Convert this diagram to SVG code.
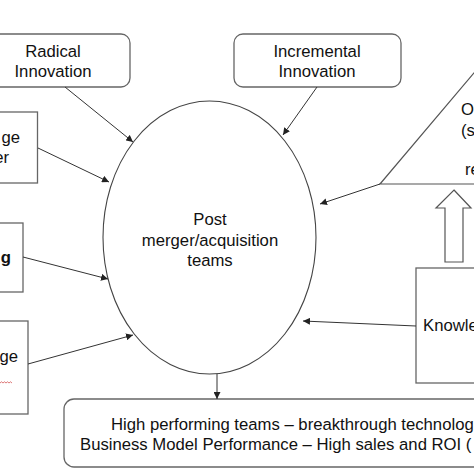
<svg xmlns="http://www.w3.org/2000/svg" width="474" height="474" viewBox="0 0 474 474">
<style>
.t{font-family:"Liberation Sans",Arial,sans-serif;font-size:16.7px;fill:#111}
.c{text-anchor:middle}
.e{text-anchor:end}
.box{fill:#fff;stroke:#666;stroke-width:1.3}
.cn{stroke:#333;stroke-width:1;fill:none}
</style>
<defs>
<marker id="ah" viewBox="0 0 10 10" refX="10" refY="5" markerWidth="7" markerHeight="7" markerUnits="userSpaceOnUse" orient="auto">
<path d="M0,0 L10,5 L0,10 z" fill="#222"/>
</marker>
</defs>
<rect width="474" height="474" fill="#fff"/>
<g id="ellipse">
<ellipse cx="209.5" cy="237.5" rx="106.5" ry="136.5" fill="#fff" stroke="#444" stroke-width="1.1"/>
<text class="t c" x="210" y="225">Post</text>
<text class="t c" x="210" y="246">merger/acquisition</text>
<text class="t c" x="210" y="266">teams</text>
</g>
<g id="radical">
<rect class="box" x="-10" y="34" width="140" height="53" rx="9"/>
<text class="t c" x="53" y="57">Radical</text>
<text class="t c" x="53" y="77">Innovation</text>
</g>
<g id="incremental">
<rect class="box" x="234" y="34" width="167" height="53" rx="9"/>
<text class="t c" x="317" y="57">Incremental</text>
<text class="t c" x="317" y="77">Innovation</text>
</g>
<g id="boxA">
<rect class="box" x="-10" y="112" width="47.5" height="71"/>
<text class="t e" x="20" y="143">ge</text>
<text class="t e" x="9" y="163">er</text>
</g>
<g id="boxB">
<rect class="box" x="-10" y="223" width="33" height="69"/>
<text class="t e" x="11" y="263" font-weight="bold">g</text>
</g>
<g id="boxC">
<rect class="box" x="-10" y="321" width="38" height="93"/>
<text class="t e" x="18" y="362">ge</text>
<path d="M0,383 l1.5,-1.2 l1.5,1.2 l1.5,-1.2 l1.5,1.2 l1.5,-1.2 l1.5,1.2 l1.5,-1.2 l1.5,1.2" fill="none" stroke="#d04040" stroke-width="0.7"/>
</g>
<g id="outcome">
<path d="M484,61 L380,184 L484,184" fill="#fff" stroke="#555" stroke-width="1.2"/>
<text class="t" x="461" y="115">O</text>
<text class="t" x="461" y="136">(s</text>
<text class="t" x="465" y="175">re</text>
</g>
<g id="knowledge">
<rect class="box" x="416" y="268" width="70" height="115"/>
<text class="t" x="423" y="331">Knowle</text>
</g>
<g id="results">
<rect class="box" x="64" y="399" width="430" height="68" rx="10"/>
<text class="t" x="111" y="430">High performing teams – breakthrough technolog</text>
<text class="t" x="80" y="450">Business Model Performance – High sales and ROI (</text>
</g>
<g id="connectors">
<line class="cn" x1="65" y1="87" x2="133" y2="142" marker-end="url(#ah)"/>
<line class="cn" x1="38" y1="148" x2="109" y2="182" marker-end="url(#ah)"/>
<line class="cn" x1="23" y1="257" x2="108" y2="279" marker-end="url(#ah)"/>
<line class="cn" x1="28" y1="364" x2="133" y2="335" marker-end="url(#ah)"/>
<line class="cn" x1="317" y1="87" x2="283" y2="135" marker-end="url(#ah)"/>
<line class="cn" x1="380" y1="184" x2="320" y2="204" marker-end="url(#ah)"/>
<line class="cn" x1="416" y1="326" x2="303" y2="321" marker-end="url(#ah)"/>
<line class="cn" x1="217" y1="374" x2="217" y2="399" marker-end="url(#ah)"/>
<polygon points="454,190 471,208 463,208 463,262 445,262 445,208 436,208" fill="#fff" stroke="#555" stroke-width="1.2"/>
</g>
</svg>
